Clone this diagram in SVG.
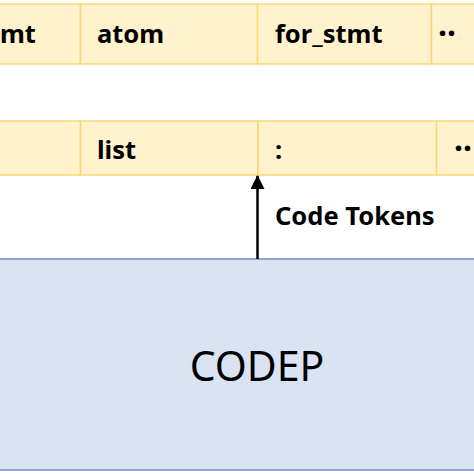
<svg xmlns="http://www.w3.org/2000/svg" width="474" height="474" viewBox="0 0 474 474">
<defs>
<style>
.cell{fill:#fff2cc;stroke:#f7d877;stroke-width:1.5}
.tok{font-family:"Noto Sans","Liberation Sans",sans-serif;font-weight:700;font-size:25.5px;fill:#000}
.dots{font-family:"Noto Sans","Liberation Sans",sans-serif;font-weight:700;font-size:32px;fill:#000}
.codep{fill:#dae3f3;stroke:#8fa3d6;stroke-width:2}
</style>
<marker id="ah" markerWidth="14" markerHeight="14" refX="13" refY="7" orient="auto" markerUnits="userSpaceOnUse" viewBox="0 0 14 14">
<path d="M0,0 L14,7 L0,14 Z" fill="#000"/>
</marker>
</defs>
<rect width="474" height="474" fill="#fff"/>
<g id="row1">
<g id="r1c0"><rect class="cell" x="-20" y="4" width="100.5" height="60"/><text class="tok" x="0" y="43">mt</text></g>
<g id="r1c1"><rect class="cell" x="80.5" y="4" width="177" height="60"/><text class="tok" x="97" y="43">atom</text></g>
<g id="r1c2"><rect class="cell" x="257.5" y="4" width="174" height="60"/><text class="tok" x="275" y="43">for_stmt</text></g>
<g id="r1c3"><rect class="cell" x="431.5" y="4" width="60" height="60"/><text class="dots" x="438" y="45">··</text></g>
</g>
<g id="row2">
<g id="r2c0"><rect class="cell" x="-20" y="121" width="100.5" height="54"/></g>
<g id="r2c1"><rect class="cell" x="80.5" y="121" width="177.5" height="54"/><text class="tok" x="97" y="159">list</text></g>
<g id="r2c2"><rect class="cell" x="258" y="121" width="178.5" height="54"/><text class="tok" x="275" y="159">:</text></g>
<g id="r2c3"><rect class="cell" x="436.5" y="121" width="60" height="54"/><text class="dots" x="454" y="160">··</text></g>
</g>
<g id="codep"><rect class="codep" x="-10" y="259" width="494" height="211"/><text x="257" y="381" text-anchor="middle" font-family="Noto Sans, Liberation Sans, sans-serif" font-size="41" fill="#000">CODEP</text></g>
<g id="connectors">
<line x1="257.5" y1="259" x2="257.5" y2="176" stroke="#000" stroke-width="2.5" marker-end="url(#ah)"/>
<text class="tok" x="275" y="225">Code Tokens</text>
</g>
</svg>
